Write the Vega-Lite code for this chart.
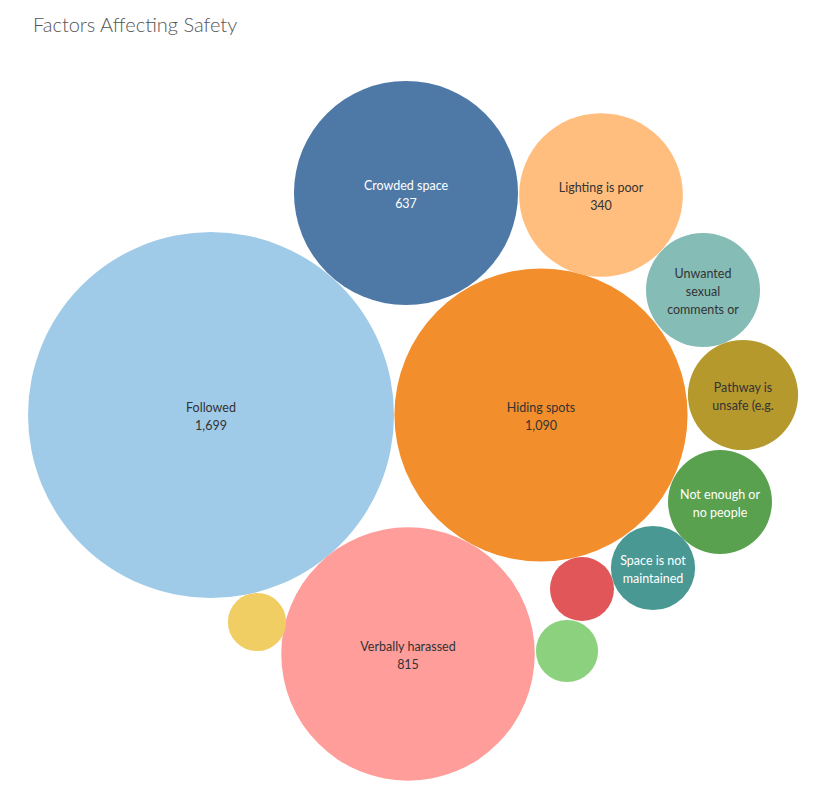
{
  "$schema": "https://vega.github.io/schema/vega-lite/v6.json",
  "width": 818,
  "height": 750,
  "autosize": "none",
  "padding": {"left": 0, "top": 50, "right": 0, "bottom": 0},
  "background": "white",
  "title": {
    "text": "Factors Affecting Safety",
    "anchor": "start",
    "dx": 33,
    "offset": 14,
    "font": "Lato",
    "fontSize": 20,
    "fontWeight": 300,
    "color": "#555555"
  },
  "config": {"view": {"stroke": null}},
  "data": {
    "values": [
      {"name": "Followed", "label": "Followed", "showValue": true, "value": 1699, "x": 211, "y": 415},
      {"name": "Hiding spots", "label": "Hiding spots", "showValue": true, "value": 1090, "x": 541, "y": 415},
      {"name": "Verbally harassed", "label": "Verbally harassed", "showValue": true, "value": 815, "x": 408, "y": 654},
      {"name": "Crowded space", "label": "Crowded space", "showValue": true, "value": 637, "x": 406, "y": 193},
      {"name": "Lighting is poor", "label": "Lighting is poor", "showValue": true, "value": 340, "x": 601, "y": 195},
      {"name": "Unwanted sexual comments or gestures", "label": "Unwanted|sexual|comments or", "showValue": false, "value": 165, "x": 703, "y": 290},
      {"name": "Pathway is unsafe (e.g. uneven)", "label": "Pathway is|unsafe (e.g.", "showValue": false, "value": 154, "x": 743, "y": 395},
      {"name": "Not enough or no people", "label": "Not enough or|no people", "showValue": false, "value": 137, "x": 720, "y": 502},
      {"name": "Space is not maintained", "label": "Space is not|maintained", "showValue": false, "value": 90, "x": 653, "y": 568},
      {"name": "Physically harassed", "label": "", "showValue": false, "value": 52, "x": 582, "y": 589},
      {"name": "Isolated area", "label": "", "showValue": false, "value": 49, "x": 567, "y": 651},
      {"name": "Other", "label": "", "showValue": false, "value": 43, "x": 257, "y": 622}
    ]
  },
  "transform": [
    {"calculate": "datum.label + (datum.showValue ? '|' + format(datum.value, ',') : '')", "as": "display"},
    {"calculate": "datum.y - (length(split(datum.display, '|')) - 1) * 9 + 2", "as": "textY"}
  ],
  "encoding": {
    "x": {"field": "x", "type": "quantitative", "scale": {"domain": [0, 818], "nice": false, "zero": false}, "axis": null}
  },
  "layer": [
    {
      "mark": {"type": "circle", "opacity": 1, "strokeWidth": 0},
      "encoding": {
        "y": {"field": "y", "type": "quantitative", "scale": {"domain": [50, 800], "nice": false, "zero": false, "reverse": true}, "axis": null},
        "size": {"field": "value", "type": "quantitative", "scale": {"type": "linear", "domain": [0, 1699], "range": [0, 133956], "zero": true}, "legend": null},
        "color": {
          "field": "name", "type": "nominal", "legend": null,
          "scale": {
            "domain": ["Followed", "Hiding spots", "Verbally harassed", "Crowded space", "Lighting is poor", "Unwanted sexual comments or gestures", "Pathway is unsafe (e.g. uneven)", "Not enough or no people", "Space is not maintained", "Physically harassed", "Isolated area", "Other"],
            "range": ["#A0CBE8", "#F28E2B", "#FF9D9A", "#4E79A7", "#FFBE7D", "#86BCB6", "#B6992D", "#59A14F", "#499894", "#E15759", "#8CD17D", "#F1CE63"]
          }
        },
        "tooltip": [{"field": "name", "type": "nominal"}, {"field": "value", "type": "quantitative", "format": ","}]
      }
    },
    {
      "mark": {"type": "text", "lineBreak": "|", "fontSize": 12.5, "lineHeight": 18, "font": "Lato", "align": "center", "baseline": "middle"},
      "encoding": {
        "y": {"field": "textY", "type": "quantitative", "scale": {"domain": [50, 800], "nice": false, "zero": false, "reverse": true}, "axis": null},
        "text": {"field": "display", "type": "nominal"},
        "color": {
          "condition": {"test": "indexof(['Crowded space', 'Not enough or no people', 'Space is not maintained'], datum.name) >= 0", "value": "#ffffff"},
          "value": "#333333"
        }
      }
    }
  ]
}
